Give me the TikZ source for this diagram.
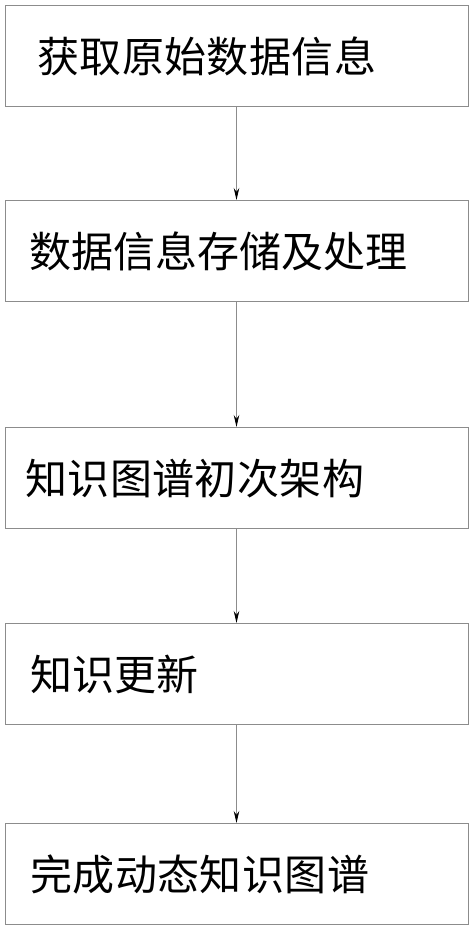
\documentclass[tikz,border=0pt]{standalone}
\usepackage{fontspec}
\newfontfamily\cjk{Noto Sans CJK SC}
\newfontfamily\cjkwide[LetterSpace=1]{Noto Sans CJK SC}
\usetikzlibrary{arrows.meta,positioning}
\tikzstyle{stepbox}=[draw=black!45,line width=1pt,rectangle,minimum width=463pt,minimum height=101pt,inner sep=0pt,outer sep=0pt]
\tikzstyle{steptext}=[inner sep=0pt,font=\cjk\fontsize{42}{42}\selectfont]
\tikzstyle{widetext}=[steptext,font=\cjkwide\fontsize{42}{42}\selectfont]
\tikzstyle{flow}=[draw=black!45,line width=0.8pt,-{Stealth[length=12pt,width=5.5pt,black]}]
\newcommand{\drawflow}[2][\empty]{
	\foreach \a/\b in {#2}{
		\draw[flow,#1] (\a) -- (\b);
	}
}

\begin{document}
\begin{tikzpicture}[x=1pt,y=1pt]
\useasboundingbox (0,0) rectangle (474,-930);
% steps
\node[stepbox] (b1) at (236.5,-55.5) {};
\node[stepbox,below=94pt of b1] (b2) {};
\node[stepbox,below=126pt of b2] (b3) {};
\node[stepbox,below=95pt of b3] (b4) {};
\node[stepbox,below=99pt of b4] (b5) {};

\node[widetext,right=32pt of b1.west,yshift=-1pt] (t1) {获取原始数据信息};
\node[steptext,right=24pt of b2.west,yshift=-1pt] (t2) {数据信息存储及处理};
\node[widetext,right=20pt of b3.west,yshift=-1pt] (t3) {知识图谱初次架构};
\node[steptext,right=25pt of b4.west,yshift=-1pt] (t4) {知识更新};
\node[widetext,right=25pt of b5.west,yshift=-1pt] (t5) {完成动态知识图谱};

\drawflow{b1/b2,b2/b3,b3/b4,b4/b5}
\end{tikzpicture}
\end{document}
